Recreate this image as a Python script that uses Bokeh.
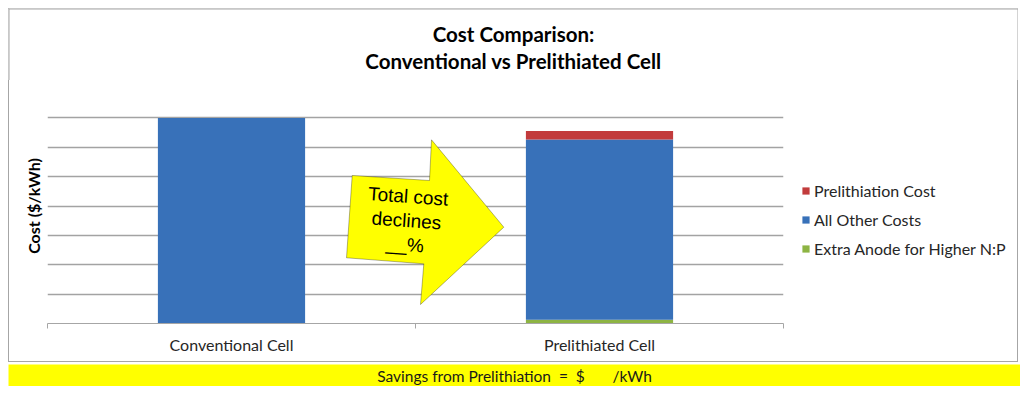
from bokeh.plotting import figure
from bokeh.models import (Legend, LegendItem, Label, PolyAnnotation, FixedTicker, Range1d,
                          ColumnDataSource, Span)
from bokeh.layouts import column, row
from bokeh.embed import file_html
from bokeh.resources import INLINE

# ---------------- data ----------------
categories = ["Conventional Cell", "Prelithiated Cell"]
series = ["Extra Anode for Higher N:P", "All Other Costs", "Prelithiation Cost"]
extra_anode = [0.0, 0.13]
all_other = [7.0, 6.13]
prelith_cost = [0.0, 0.29]
series_colors = ["#8DB443", "#3871B9", "#C23B3C"]
y_gridlines = [1, 2, 3, 4, 5, 6, 7, 8]
y_max = 8

title_lines = ["Cost Comparison:", "Conventional vs Prelithiated Cell"]
y_label = "Cost ($/kWh)"
arrow_text = "Total cost\ndeclines\n__%"
banner_text = "Savings from Prelithiation\u00a0 =\u00a0 $" + "\u00a0" * 7 + "/kWh"

FONT = "Lato"
TXT = "#262626"
EDGE = "#A6A6A6"


def bare(w, h, **kw):
    f = figure(width=w, height=h, title=None, output_backend="svg", toolbar_location=None,
               x_axis_type=None, y_axis_type=None, min_border=0,
               x_range=Range1d(0, w), y_range=Range1d(0, h), **kw)
    f.outline_line_color = None
    f.xgrid.grid_line_color = None
    f.ygrid.grid_line_color = None
    return f


def edge(f, loc, dim):
    f.add_layout(Span(location=loc, location_units="screen", dimension=dim,
                      line_color=EDGE, line_width=1))


# ---------------- title ----------------
tf = bare(1010, 72)
for i, t in enumerate(title_lines):
    tf.add_layout(Label(x=505, y=47 - 27 * i, x_units="screen", y_units="screen", text=t,
                        text_align="center", text_baseline="middle",
                        text_font=FONT, text_font_style="bold",
                        text_font_size="20.5px", text_color="#000000"))
edge(tf, 0.5, "height")
edge(tf, 1009.5, "height")
edge(tf, 71.5, "width")

# ---------------- main plot ----------------
xs = [i + 0.5 for i in range(len(categories))]
source = ColumnDataSource(dict(x=xs, extra=extra_anode, other=all_other, prelith=prelith_cost))

p = figure(width=780, height=282, title=None,
           x_range=Range1d(0, len(categories)), y_range=Range1d(0, y_max),
           output_backend="svg", toolbar_location=None,
           min_border_left=39, min_border_right=5, min_border_top=8, min_border_bottom=39)
p.outline_line_color = None
p.border_fill_color = None
p.background_fill_color = "white"

rs = p.vbar_stack(["extra", "other", "prelith"], x="x", width=0.4, color=series_colors,
                  line_color=None, source=source)

# x axis: category names at centres, separator ticks at the boundaries
p.xaxis.ticker = FixedTicker(ticks=xs, minor_ticks=list(range(len(categories) + 1)))
p.xaxis.major_label_overrides = {x: c for x, c in zip(xs, categories)}
p.xaxis.major_tick_line_color = None
p.xaxis.major_tick_out = 0
p.xaxis.major_tick_in = 0
p.xaxis.minor_tick_line_color = EDGE
p.xaxis.minor_tick_out = 5
p.xaxis.minor_tick_in = 0
p.xaxis.axis_line_color = EDGE
p.xaxis.major_label_standoff = 6
p.xaxis.major_label_text_font = FONT
p.xaxis.major_label_text_font_size = "16px"
p.xaxis.major_label_text_color = TXT

# y axis: only the title is shown
p.yaxis.ticker = FixedTicker(ticks=[])
p.yaxis.major_tick_line_color = None
p.yaxis.minor_tick_line_color = None
p.yaxis.axis_line_color = None
p.yaxis.axis_label = y_label
p.yaxis.axis_label_text_font = FONT
p.yaxis.axis_label_text_font_style = "bold"
p.yaxis.axis_label_text_font_size = "16px"
p.yaxis.axis_label_text_color = "#000000"
p.yaxis.axis_label_standoff = 5

p.xgrid.grid_line_color = None
p.ygrid.ticker = FixedTicker(ticks=y_gridlines)
p.ygrid.grid_line_color = "#A3A3A3"
p.ygrid.grid_line_width = 1.3

# arrow annotation
p.add_layout(PolyAnnotation(
    xs=[304.7, 382, 384, 456.3, 373, 376.3, 299],
    ys=[148, 143, 183.7, 96.3, 19, 59.7, 65.7],
    xs_units="screen", ys_units="screen",
    fill_color="#FFFF00", fill_alpha=1.0, line_color="#000000", line_width=1))
p.add_layout(Label(x=359, y=103, x_units="screen", y_units="screen", text=arrow_text,
                   angle=-0.07, text_align="center", text_baseline="middle",
                   text_font="Liberation Sans", text_font_size="19px",
                   text_color="#000000", text_line_height=1.15))

# ---------------- legend (own panel; keys drawn from hidden copies of the series) ----------------
lf = bare(230, 282)
lf.background_fill_alpha = 0
lf.border_fill_alpha = 0
lrs = lf.vbar_stack(["extra", "other", "prelith"], x="x", width=0.4, color=series_colors,
                    line_color=None, source=source, visible=False)
legend = Legend(items=[LegendItem(label=series[k], renderers=[lrs[k]]) for k in (2, 1, 0)],
                location=(13, 65), orientation="vertical",
                padding=0, margin=0, spacing=10, label_standoff=4,
                glyph_width=9, glyph_height=9, label_height=18,
                border_line_color=None, background_fill_alpha=0,
                inactive_fill_alpha=0,
                label_text_font=FONT, label_text_font_size="16px", label_text_color=TXT)
lf.add_layout(legend, "center")

chart = column(tf, row(p, lf))
chart.styles = {"box-shadow": "inset 0 0 0 1px " + EDGE, "background-color": "white"}

# ---------------- banner ----------------
b = bare(1012, 22, background_fill_color="#FFFF00", border_fill_color="#FFFF00")
b.add_layout(Label(x=506, y=11, x_units="screen", y_units="screen", text=banner_text,
                   text_align="center", text_baseline="middle",
                   text_font=FONT, text_font_size="15.5px", text_color="#1A1A1A"))

layout = column(chart, b, spacing=2, margin=(8, 0, 0, 8))
open("out.html", "w").write(file_html(layout, INLINE))
